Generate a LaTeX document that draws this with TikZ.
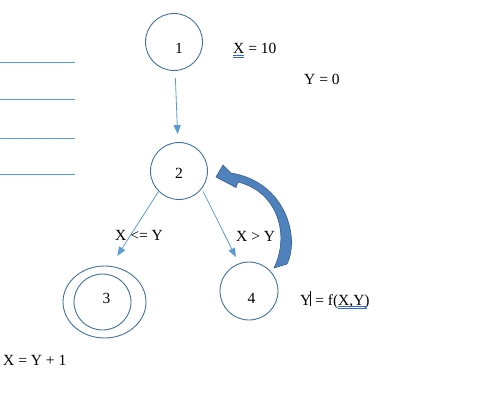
\documentclass[tikz,border=0pt]{standalone}
\usepackage{fontspec}
\setmainfont{Liberation Serif}
\usetikzlibrary{arrows.meta,shapes.geometric}
\definecolor{circ}{RGB}{65,113,156}
\definecolor{lineblue}{RGB}{91,155,213}
\definecolor{blockfill}{RGB}{79,129,189}
\definecolor{blockedge}{RGB}{56,93,138}
\definecolor{spell}{RGB}{51,102,204}
\begin{document}
\begin{tikzpicture}[x=1pt,y=-1pt,
  state/.style={circle,draw=circ,line width=0.9pt,minimum size=57pt,inner sep=0pt},
  num/.style={font=\fontsize{15.5}{18}\selectfont,inner sep=0pt,anchor=base},
  lbl/.style={font=\fontsize{15.5}{18}\selectfont,inner sep=0pt,anchor=base west},
  edge/.style={draw=lineblue,line width=0.8pt,-{Triangle[length=9pt,width=7pt]}},
  rule/.style={draw=lineblue,line width=0.8pt},
  spellmark/.style={draw=spell,line width=0.6pt}]
\useasboundingbox (0,0) rectangle (487,410);

% states
\node[state] (n1) at (174,42) {};
\node[state] (n2) at (179,171) {};
\node[state,ellipse,minimum width=83pt,minimum height=72pt] (n3) at (104.5,302) {};
\node[state,ellipse,minimum width=57pt,minimum height=56pt] (n3in) at (102.5,302) {};
\node[state,minimum size=58pt] (n4) at (249,291) {};

% state numbers
\node[num] (l1) at (179,53) {1};
\node[num] (l2) at (179,178) {2};
\node[num] (l3) at (106.5,303) {3};
\node[num] (l4) at (251.5,303) {4};

% connectors
\draw[edge,shorten <=7pt,shorten >=8pt] (n1) -- (n2);
\draw[edge,shorten >=12pt] (n2.225) -- (n3.80);
\draw[edge,shorten <=3pt,shorten >=7pt] (n2.-38) -- (n4.110);

% curved block arrow from 4 back to 2
\filldraw[fill=blockfill,draw=blockedge,line width=0.6pt]
  (287,264) .. controls (300,238) and (286,182) .. (231,173)
  -- (223,165) -- (216,177) -- (236,187.5) -- (238,182)
  .. controls (278,192) and (290,235) .. (274,268) -- cycle;

% texts
\node[lbl] (tx) at (233,53) {X = 10};
\node[lbl] (ty) at (304,84) {Y = 0};
\node[lbl] (tle) at (115,240) {X <= Y};
\node[lbl] (tgt) at (236,241) {X > Y};
\node[lbl] (tf) at (300,305) {Y = f(X,Y)};
\node[lbl] (tyx) at (3,365) {X = Y + 1};

% left rules
\draw[rule] (0,62) -- (75,62);
\draw[rule] (0,99) -- (75,99);
\draw[rule] (0,138) -- (75,138);
\draw[rule] (0,174) -- (75,174);

% spelling marks and cursor
\draw[spellmark] (233,54.8) -- (244,54.8) (233,56.8) -- (244,56.8);
\draw[spellmark] (338,306.3) -- (367,306.3) (338,308.3) -- (367,308.3);
\draw[line width=0.7pt] (310,291) -- (310,306);
\end{tikzpicture}
\end{document}
